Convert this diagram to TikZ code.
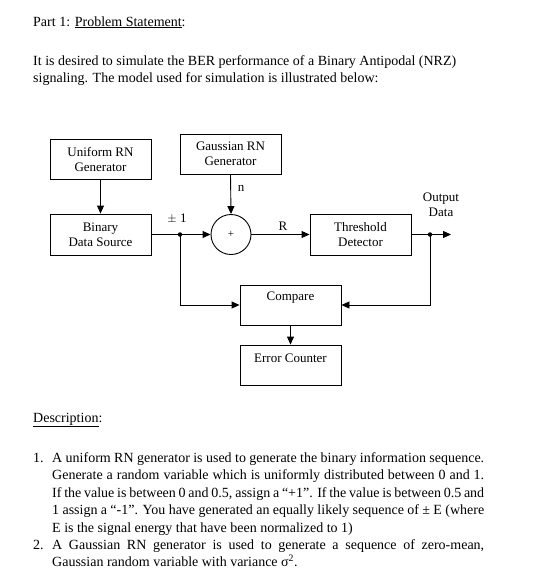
\documentclass[tikz,border=0pt]{standalone}
\usepackage{fontspec}
\setmainfont{Liberation Serif}
\usetikzlibrary{arrows.meta}
\begin{document}
\begin{tikzpicture}[x=1pt,y=-1pt,
  blk/.style={draw, line width=0.9pt, minimum width=101pt, minimum height=40pt, inner sep=0pt, align=center, font=\fontsize{13}{15}\selectfont},
  lbl/.style={inner sep=0pt, align=center, font=\fontsize{13}{15}\selectfont},
  sumnode/.style={draw, circle, line width=0.9pt, minimum size=40pt, inner sep=0pt, font=\fontsize{11}{13}\selectfont},
  dotnode/.style={circle, fill=black, minimum size=4.5pt, inner sep=0pt},
  wire/.style={line width=0.9pt},
  arr/.style={line width=0.9pt, -{Triangle[length=8pt,width=7pt]}},
  body/.style={inner sep=0pt, anchor=base west, font=\fontsize{14}{18}\selectfont},
  item/.style={inner sep=0pt, anchor=base west, font=\fontsize{14}{17.5}\selectfont}
]
\useasboundingbox (0,0) rectangle (533,574);
\fill[white] (0,0) rectangle (533,574);
% header text
\node[body] (t1) at (33,26) {Part 1: \underline{Problem Statement}:};
\node[body] (t2) at (33,65) {It is desired to simulate the BER performance of a Binary Antipodal (NRZ)};
\node[body] (t3) at (33,82) {signaling. The model used for simulation is illustrated below:};
% diagram
\node[blk] (unif) at (100.5,159) {Uniform RN\\Generator};
\node[blk] (gauss) at (230.5,154) {Gaussian RN\\Generator};
\node[blk, minimum height=41pt] (bds) at (100.5,234.5) {Binary\\Data Source};
\node[sumnode] (sum) at (231,234.5) {+};
\node[blk, minimum height=41pt] (thr) at (360.5,234.5) {Threshold\\Detector};
\node[blk] (cmp) at (290.5,305) {};
\node[lbl] (cmpt) at (290.5,298) {Compare};
\node[blk] (err) at (290.5,365) {};
\node[lbl] (errt) at (290.5,358) {Error Counter};
\node[dotnode] (d1) at (180,234.5) {};
\node[dotnode] (d2) at (430,234.5) {};
\coordinate (outp) at (451,234.5);
\node[lbl] (pm) at (177,219) {$\pm$ 1};
\node[lbl] (nl) at (241,188) {n};
\node[lbl] (rl) at (283,226) {R};
\node[lbl] (ol) at (441,205) {Output\\Data};
\draw[arr] (unif.south) -- (bds.north);
\draw[arr] (gauss.south) -- (sum.north);
\draw[wire] (bds.east) -- (d1.center);
\draw[arr] (d1.center) -- (sum.west);
\draw[arr] (sum.east) -- (thr.west);
\draw[wire] (thr.east) -- (d2.center);
\draw[arr] (d2.center) -- (outp);
\draw[arr] (d1.center) |- (cmp.west);
\draw[arr] (d2.center) |- (cmp.east);
\draw[arr] (cmp.south) -- (err.north);
% description
\node[body] (desc) at (33,422) {\underline{Description}:};
\node[item] (n1) at (33,462) {1.};
\node[item] (l1) at (52,462) {\makebox[432pt][s]{A uniform RN generator is used to generate the binary information sequence.}};
\node[item] (l2) at (52,479.5) {\makebox[432pt][s]{Generate a random variable which is uniformly distributed between 0 and 1.}};
\node[item] (l3) at (52,497) {\makebox[432pt][s]{If the value is between 0 and 0.5, assign a “+1”. If the value is between 0.5 and}};
\node[item] (l4) at (52,514.5) {\makebox[432pt][s]{1 assign a “-1”. You have generated an equally likely sequence of ± E (where}};
\node[item] (l5) at (52,532) {E is the signal energy that have been normalized to 1)};
\node[item] (n2) at (33,549) {2.};
\node[item] (l6) at (52,549) {\makebox[432pt][s]{A Gaussian RN generator is used to generate a sequence of zero-mean,}};
\node[item] (l7) at (52,566.5) {Gaussian random variable with variance σ\textsuperscript{2}.};
\end{tikzpicture}
\end{document}
